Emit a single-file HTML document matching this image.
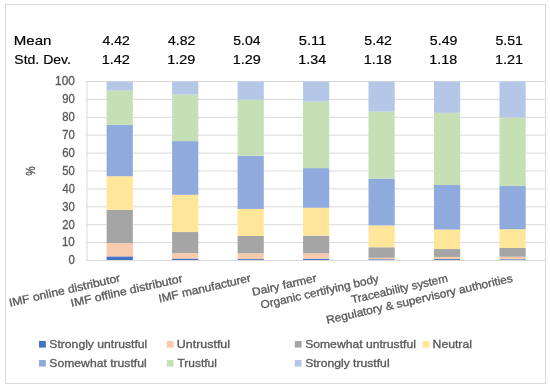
<!DOCTYPE html><html><head><meta charset="utf-8"><style>html,body{margin:0;padding:0;background:#fff;}svg{display:block;}text{font-family:"Liberation Sans",Arial,sans-serif;} .t{stroke:#000;stroke-width:0.18px;} .g{stroke:#595959;stroke-width:0.32px;}</style></head><body>
<svg width="550" height="388" viewBox="0 0 550 388">
<rect x="0" y="0" width="550" height="388" fill="#fff"/>
<rect x="5.5" y="4.5" width="540" height="379" fill="none" stroke="#D9D9D9" stroke-width="1"/>
<line x1="86.5" x2="545" y1="260.50" y2="260.50" stroke="#D9D9D9" stroke-width="1"/>
<line x1="86.5" x2="545" y1="242.60" y2="242.60" stroke="#D9D9D9" stroke-width="1"/>
<line x1="86.5" x2="545" y1="224.70" y2="224.70" stroke="#D9D9D9" stroke-width="1"/>
<line x1="86.5" x2="545" y1="206.80" y2="206.80" stroke="#D9D9D9" stroke-width="1"/>
<line x1="86.5" x2="545" y1="188.90" y2="188.90" stroke="#D9D9D9" stroke-width="1"/>
<line x1="86.5" x2="545" y1="171.00" y2="171.00" stroke="#D9D9D9" stroke-width="1"/>
<line x1="86.5" x2="545" y1="153.10" y2="153.10" stroke="#D9D9D9" stroke-width="1"/>
<line x1="86.5" x2="545" y1="135.20" y2="135.20" stroke="#D9D9D9" stroke-width="1"/>
<line x1="86.5" x2="545" y1="117.30" y2="117.30" stroke="#D9D9D9" stroke-width="1"/>
<line x1="86.5" x2="545" y1="99.40" y2="99.40" stroke="#D9D9D9" stroke-width="1"/>
<line x1="86.5" x2="545" y1="81.50" y2="81.50" stroke="#D9D9D9" stroke-width="1"/>
<rect x="106.64" y="256.38" width="26.2" height="4.12" fill="#4472C4"/>
<rect x="106.64" y="243.14" width="26.2" height="13.25" fill="#F8CBAD"/>
<rect x="106.64" y="209.84" width="26.2" height="33.29" fill="#A5A5A5"/>
<rect x="106.64" y="176.19" width="26.2" height="33.65" fill="#FFE699"/>
<rect x="106.64" y="124.82" width="26.2" height="51.37" fill="#8FAADC"/>
<rect x="106.64" y="90.63" width="26.2" height="34.19" fill="#C5E0B4"/>
<rect x="106.64" y="81.50" width="26.2" height="9.13" fill="#B4C7E7"/>
<rect x="172.10" y="258.53" width="26.2" height="1.97" fill="#4472C4"/>
<rect x="172.10" y="253.16" width="26.2" height="5.37" fill="#F8CBAD"/>
<rect x="172.10" y="232.04" width="26.2" height="21.12" fill="#A5A5A5"/>
<rect x="172.10" y="194.81" width="26.2" height="37.23" fill="#FFE699"/>
<rect x="172.10" y="141.11" width="26.2" height="53.70" fill="#8FAADC"/>
<rect x="172.10" y="94.57" width="26.2" height="46.54" fill="#C5E0B4"/>
<rect x="172.10" y="81.50" width="26.2" height="13.07" fill="#B4C7E7"/>
<rect x="237.58" y="259.07" width="26.2" height="1.43" fill="#4472C4"/>
<rect x="237.58" y="253.34" width="26.2" height="5.73" fill="#F8CBAD"/>
<rect x="237.58" y="235.98" width="26.2" height="17.36" fill="#A5A5A5"/>
<rect x="237.58" y="208.95" width="26.2" height="27.03" fill="#FFE699"/>
<rect x="237.58" y="155.78" width="26.2" height="53.16" fill="#8FAADC"/>
<rect x="237.58" y="99.76" width="26.2" height="56.03" fill="#C5E0B4"/>
<rect x="237.58" y="81.50" width="26.2" height="18.26" fill="#B4C7E7"/>
<rect x="303.04" y="258.71" width="26.2" height="1.79" fill="#4472C4"/>
<rect x="303.04" y="253.34" width="26.2" height="5.37" fill="#F8CBAD"/>
<rect x="303.04" y="235.62" width="26.2" height="17.72" fill="#A5A5A5"/>
<rect x="303.04" y="207.69" width="26.2" height="27.92" fill="#FFE699"/>
<rect x="303.04" y="168.14" width="26.2" height="39.56" fill="#8FAADC"/>
<rect x="303.04" y="101.55" width="26.2" height="66.59" fill="#C5E0B4"/>
<rect x="303.04" y="81.50" width="26.2" height="20.05" fill="#B4C7E7"/>
<rect x="368.51" y="259.25" width="26.2" height="1.25" fill="#4472C4"/>
<rect x="368.51" y="257.81" width="26.2" height="1.43" fill="#F8CBAD"/>
<rect x="368.51" y="247.25" width="26.2" height="10.56" fill="#A5A5A5"/>
<rect x="368.51" y="225.42" width="26.2" height="21.84" fill="#FFE699"/>
<rect x="368.51" y="178.52" width="26.2" height="46.90" fill="#8FAADC"/>
<rect x="368.51" y="111.57" width="26.2" height="66.95" fill="#C5E0B4"/>
<rect x="368.51" y="81.50" width="26.2" height="30.07" fill="#B4C7E7"/>
<rect x="433.98" y="259.07" width="26.2" height="1.43" fill="#4472C4"/>
<rect x="433.98" y="256.92" width="26.2" height="2.15" fill="#F8CBAD"/>
<rect x="433.98" y="249.04" width="26.2" height="7.88" fill="#A5A5A5"/>
<rect x="433.98" y="229.53" width="26.2" height="19.51" fill="#FFE699"/>
<rect x="433.98" y="184.96" width="26.2" height="44.57" fill="#8FAADC"/>
<rect x="433.98" y="112.82" width="26.2" height="72.14" fill="#C5E0B4"/>
<rect x="433.98" y="81.50" width="26.2" height="31.32" fill="#B4C7E7"/>
<rect x="499.46" y="259.25" width="26.2" height="1.25" fill="#4472C4"/>
<rect x="499.46" y="256.74" width="26.2" height="2.51" fill="#F8CBAD"/>
<rect x="499.46" y="247.97" width="26.2" height="8.77" fill="#A5A5A5"/>
<rect x="499.46" y="229.18" width="26.2" height="18.79" fill="#FFE699"/>
<rect x="499.46" y="186.04" width="26.2" height="43.14" fill="#8FAADC"/>
<rect x="499.46" y="117.48" width="26.2" height="68.56" fill="#C5E0B4"/>
<rect x="499.46" y="81.50" width="26.2" height="35.98" fill="#B4C7E7"/>
<line x1="87.0" x2="87.0" y1="81" y2="261.0" stroke="#D9D9D9" stroke-width="1"/>
<line x1="86.5" x2="545" y1="260.5" y2="260.5" stroke="#D9D9D9" stroke-width="1"/>
<text x="68.44" y="264.35" font-size="12.2" textLength="6.37" lengthAdjust="spacingAndGlyphs" fill="#595959" class="g">0</text>
<text x="61.93" y="246.45" font-size="12.2" textLength="12.90" lengthAdjust="spacingAndGlyphs" fill="#595959" class="g">10</text>
<text x="62.23" y="228.55" font-size="12.2" textLength="12.59" lengthAdjust="spacingAndGlyphs" fill="#595959" class="g">20</text>
<text x="62.35" y="210.65" font-size="12.2" textLength="12.47" lengthAdjust="spacingAndGlyphs" fill="#595959" class="g">30</text>
<text x="62.58" y="192.75" font-size="12.2" textLength="12.23" lengthAdjust="spacingAndGlyphs" fill="#595959" class="g">40</text>
<text x="62.35" y="174.85" font-size="12.2" textLength="12.47" lengthAdjust="spacingAndGlyphs" fill="#595959" class="g">50</text>
<text x="62.23" y="156.95" font-size="12.2" textLength="12.59" lengthAdjust="spacingAndGlyphs" fill="#595959" class="g">60</text>
<text x="62.23" y="139.05" font-size="12.2" textLength="12.59" lengthAdjust="spacingAndGlyphs" fill="#595959" class="g">70</text>
<text x="62.29" y="121.15" font-size="12.2" textLength="12.53" lengthAdjust="spacingAndGlyphs" fill="#595959" class="g">80</text>
<text x="62.29" y="103.25" font-size="12.2" textLength="12.53" lengthAdjust="spacingAndGlyphs" fill="#595959" class="g">90</text>
<text x="55.11" y="85.35" font-size="12.2" textLength="19.74" lengthAdjust="spacingAndGlyphs" fill="#595959" class="g">100</text>
<text transform="translate(34.9,171.05) rotate(-90) scale(1,1.25)" font-size="10.3" fill="#595959" class="g" text-anchor="middle">%</text>
<text x="13.80" y="44.80" font-size="12.8" textLength="37.60" lengthAdjust="spacingAndGlyphs" fill="#000" class="t">Mean</text>
<text x="14.37" y="64.00" font-size="12.8" textLength="56.54" lengthAdjust="spacingAndGlyphs" fill="#000" class="t">Std. Dev.</text>
<text x="102.52" y="45.20" font-size="12.8" textLength="27.30" lengthAdjust="spacingAndGlyphs" fill="#000" class="t">4.42</text>
<text x="101.72" y="64.20" font-size="12.8" textLength="28.13" lengthAdjust="spacingAndGlyphs" fill="#000" class="t">1.42</text>
<text x="168.05" y="45.20" font-size="12.8" textLength="27.30" lengthAdjust="spacingAndGlyphs" fill="#000" class="t">4.82</text>
<text x="167.25" y="64.20" font-size="12.8" textLength="28.05" lengthAdjust="spacingAndGlyphs" fill="#000" class="t">1.29</text>
<text x="233.30" y="45.20" font-size="12.8" textLength="27.30" lengthAdjust="spacingAndGlyphs" fill="#000" class="t">5.04</text>
<text x="232.78" y="64.20" font-size="12.8" textLength="28.05" lengthAdjust="spacingAndGlyphs" fill="#000" class="t">1.29</text>
<text x="298.80" y="45.20" font-size="12.8" textLength="27.58" lengthAdjust="spacingAndGlyphs" fill="#000" class="t">5.11</text>
<text x="298.32" y="64.20" font-size="12.8" textLength="27.82" lengthAdjust="spacingAndGlyphs" fill="#000" class="t">1.34</text>
<text x="364.35" y="45.20" font-size="12.8" textLength="27.59" lengthAdjust="spacingAndGlyphs" fill="#000" class="t">5.42</text>
<text x="363.84" y="64.20" font-size="12.8" textLength="27.97" lengthAdjust="spacingAndGlyphs" fill="#000" class="t">1.18</text>
<text x="429.88" y="45.20" font-size="12.8" textLength="27.52" lengthAdjust="spacingAndGlyphs" fill="#000" class="t">5.49</text>
<text x="429.37" y="64.20" font-size="12.8" textLength="27.97" lengthAdjust="spacingAndGlyphs" fill="#000" class="t">1.18</text>
<text x="495.41" y="45.20" font-size="12.8" textLength="27.52" lengthAdjust="spacingAndGlyphs" fill="#000" class="t">5.51</text>
<text x="494.90" y="64.20" font-size="12.8" textLength="28.05" lengthAdjust="spacingAndGlyphs" fill="#000" class="t">1.21</text>
<text transform="translate(120.60,281.50) rotate(-12.8)" x="-113.56" y="0" font-size="11.3" textLength="113.77" lengthAdjust="spacingAndGlyphs" fill="#595959" class="g">IMF online distributor</text>
<text transform="translate(183.00,281.80) rotate(-12.8)" x="-114.25" y="0" font-size="11.3" textLength="114.48" lengthAdjust="spacingAndGlyphs" fill="#595959" class="g">IMF offline distributor</text>
<text transform="translate(251.30,281.50) rotate(-12.8)" x="-94.24" y="0" font-size="11.3" textLength="94.43" lengthAdjust="spacingAndGlyphs" fill="#595959" class="g">IMF manufacturer</text>
<text transform="translate(316.90,281.50) rotate(-12.8)" x="-65.55" y="0" font-size="11.3" textLength="65.74" lengthAdjust="spacingAndGlyphs" fill="#595959" class="g">Dairy farmer</text>
<text transform="translate(379.30,282.10) rotate(-12.8)" x="-120.82" y="0" font-size="11.3" textLength="120.85" lengthAdjust="spacingAndGlyphs" fill="#595959" class="g">Organic certifying body</text>
<text transform="translate(447.60,281.80) rotate(-12.8)" x="-97.90" y="0" font-size="11.3" textLength="98.61" lengthAdjust="spacingAndGlyphs" fill="#595959" class="g">Traceability system</text>
<text transform="translate(512.90,281.70) rotate(-12.8)" x="-190.50" y="0" font-size="11.3" textLength="190.90" lengthAdjust="spacingAndGlyphs" fill="#595959" class="g">Regulatory &amp; supervisory authorities</text>
<rect x="39" y="341" width="6.8" height="6.6" fill="#4472C4"/>
<text x="49.35" y="348.20" font-size="11.2" textLength="97.91" lengthAdjust="spacingAndGlyphs" fill="#595959" class="g">Strongly untrustful</text>
<rect x="166.8" y="341" width="6.8" height="6.6" fill="#F8CBAD"/>
<text x="176.77" y="348.20" font-size="11.2" textLength="53.26" lengthAdjust="spacingAndGlyphs" fill="#595959" class="g">Untrustful</text>
<rect x="294.8" y="341" width="6.8" height="6.6" fill="#A5A5A5"/>
<text x="305.15" y="348.20" font-size="11.2" textLength="110.75" lengthAdjust="spacingAndGlyphs" fill="#595959" class="g">Somewhat untrustful</text>
<rect x="422.7" y="341" width="6.8" height="6.6" fill="#FFE699"/>
<text x="432.62" y="348.20" font-size="11.2" textLength="39.33" lengthAdjust="spacingAndGlyphs" fill="#595959" class="g">Neutral</text>
<rect x="39" y="360" width="6.8" height="6.6" fill="#8FAADC"/>
<text x="49.35" y="367.20" font-size="11.2" textLength="97.30" lengthAdjust="spacingAndGlyphs" fill="#595959" class="g">Somewhat trustful</text>
<rect x="166.8" y="360" width="6.8" height="6.6" fill="#C5E0B4"/>
<text x="177.46" y="367.20" font-size="11.2" textLength="39.41" lengthAdjust="spacingAndGlyphs" fill="#595959" class="g">Trustful</text>
<rect x="294.8" y="360" width="6.8" height="6.6" fill="#B4C7E7"/>
<text x="305.15" y="367.20" font-size="11.2" textLength="84.45" lengthAdjust="spacingAndGlyphs" fill="#595959" class="g">Strongly trustful</text>
</svg></body></html>
